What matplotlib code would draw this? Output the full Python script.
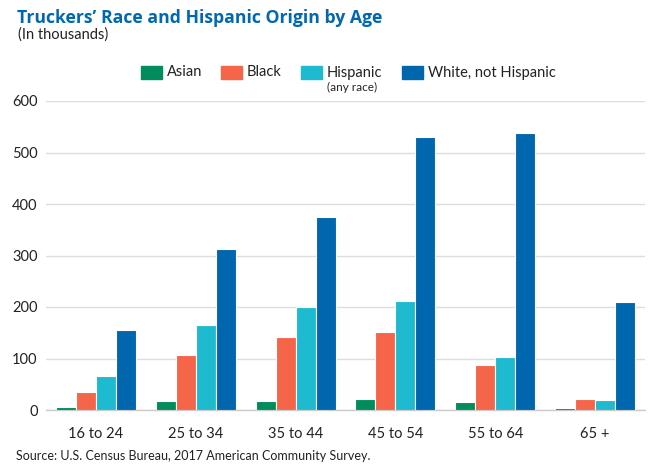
import matplotlib
matplotlib.use("Agg")
import matplotlib.pyplot as plt
from matplotlib.patches import Rectangle
import numpy as np

plt.rcParams['font.family'] = ['Lato', 'DejaVu Sans']

categories = ["16 to 24", "25 to 34", "35 to 44", "45 to 54", "55 to 64", "65 +"]
series_names = ["Asian", "Black", "Hispanic", "White, not Hispanic"]
asian = [6, 18, 17.5, 21, 15, 3]
black = [35.5, 106, 141, 151, 87, 21]
hispanic = [66.5, 166, 200, 212, 103, 20]
white = [154.5, 312.5, 374.5, 531, 537, 210]
yticks = [0, 100, 200, 300, 400, 500, 600]

colors = ["#008C5C", "#F5654A", "#1EBBD0", "#0066AD"]
series = [asian, black, hispanic, white]

fig = plt.figure(figsize=(6.66, 4.70), dpi=100)
ax = fig.add_axes([46/666, 1-410/470, (645-46)/666, (410-101)/470])

x = np.arange(len(categories))
w = 0.2
for i, (vals, c) in enumerate(zip(series, colors)):
    ax.bar(x + (i - 1.5) * w, vals, width=w, color=c, edgecolor="white",
           linewidth=0.8, zorder=3)

ax.set_xlim(-0.5, len(categories) - 0.5)
ax.set_ylim(0, 600)
ax.set_yticks(yticks)
ax.set_yticklabels([str(v) for v in yticks], fontsize=10.5, color="#222222")
ax.set_xticks(x)
ax.set_xticklabels(categories, fontsize=10.5, color="#222222")
ax.tick_params(axis='both', length=0)
ax.tick_params(axis='y', pad=6)
ax.tick_params(axis='x', pad=12)
ax.grid(axis='y', color="#DDDDDD", linewidth=1, zorder=0)
for s in ["top", "right", "left"]:
    ax.spines[s].set_visible(False)
ax.spines["bottom"].set_color("#CCCCCC")
ax.spines["bottom"].set_linewidth(1)

# Title
fig.text(17/666, 1-18/470, "Truckers\u2019 Race and Hispanic Origin by Age",
         fontsize=12.7, fontweight="bold", color="#0068B0", va="center", ha="left",
         family=["Open Sans", "DejaVu Sans"])
fig.text(18/666, 1-35/470, "(In thousands)", fontsize=10.5, color="#222222",
         va="center", ha="left")

# Legend
leg = [(141, "Asian"), (221, "Black"), (301, "Hispanic"), (402, "White, not Hispanic")]
for (px, name), c in zip(leg, colors):
    fig.patches.append(Rectangle((px/666, 1-79/470), 21/666, 13/470,
                                 transform=fig.transFigure, color=c, figure=fig))
    fig.text((px+26)/666, 1-72.5/470, name, fontsize=10.5, color="#222222",
             va="center", ha="left")
fig.text(327/666, 1-87/470, "(any race)", fontsize=8.5, color="#222222",
         va="center", ha="left")

fig.text(16/666, 1-456/470, "Source: U.S. Census Bureau, 2017 American Community Survey.",
         fontsize=9, color="#222222", va="center", ha="left")

fig.savefig("out.png", dpi=100)
